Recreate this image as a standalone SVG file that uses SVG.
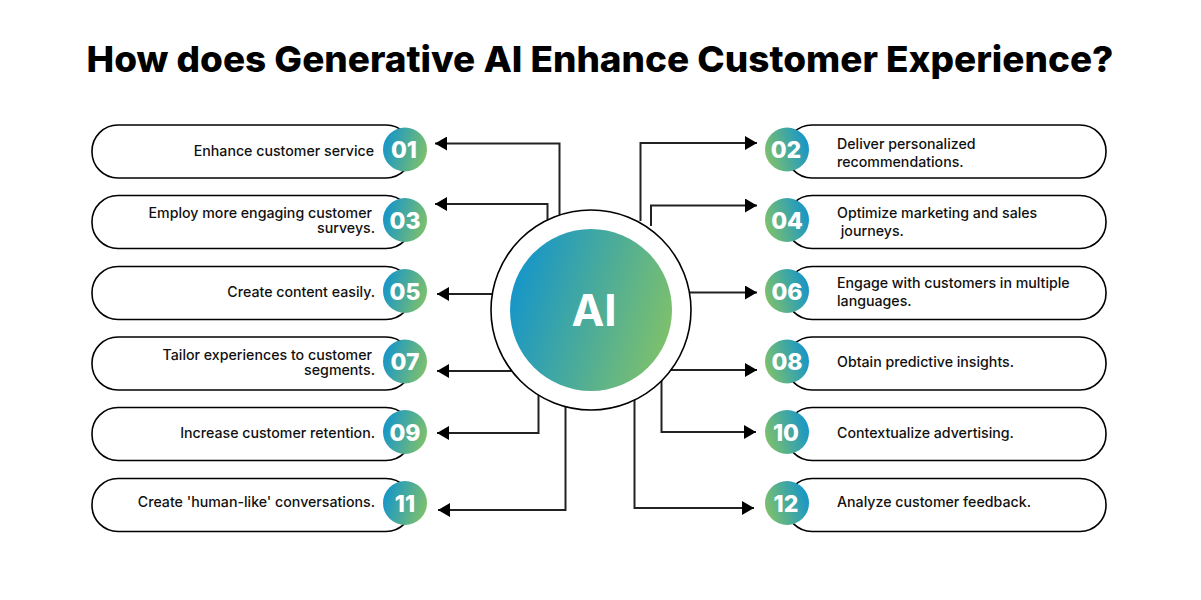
<svg xmlns="http://www.w3.org/2000/svg" width="1201" height="600" viewBox="0 0 1201 600">
<style>
.pill{fill:#fff;stroke:#000;stroke-width:1.6}
.conn{fill:none;stroke:#222;stroke-width:2}
.t{font-family:"Inter","Liberation Sans",sans-serif;font-size:14.2px;font-weight:500;fill:#111}
.l{text-anchor:end}
.n{font-family:"Inter","Liberation Sans",sans-serif;font-size:23px;font-weight:800;fill:#fff;text-anchor:middle}
</style>
<defs>
<linearGradient id="gl" x1="0" y1="0.35" x2="1" y2="0.65"><stop offset="0" stop-color="#1595ca"/><stop offset="1" stop-color="#7fc16b"/></linearGradient>
<linearGradient id="gr" x1="1" y1="0.35" x2="0" y2="0.65"><stop offset="0" stop-color="#1595ca"/><stop offset="1" stop-color="#7fc16b"/></linearGradient>
<marker id="a" markerUnits="userSpaceOnUse" markerWidth="12" markerHeight="14" refX="12" refY="7" orient="auto"><path d="M0 0L12 7L0 14Z" fill="#000"/></marker>
</defs>
<rect width="1201" height="600" fill="#fff"/>
<text x="600" y="72" text-anchor="middle" font-family="Inter,'Liberation Sans',sans-serif" font-size="36" font-weight="800" fill="#000" textLength="1027" lengthAdjust="spacingAndGlyphs">How does Generative AI Enhance Customer Experience?</text>
<g id="connectors" class="conn">
<path marker-end="url(#a)" d="M559.500 215V143.500H435"/>
<path marker-end="url(#a)" d="M547.500 220V204H435"/>
<path marker-end="url(#a)" d="M492 294H437"/>
<path marker-end="url(#a)" d="M512 371H437"/>
<path marker-end="url(#a)" d="M538.500 395V433H437"/>
<path marker-end="url(#a)" d="M565.500 407V510H438"/>
<path marker-end="url(#a)" d="M640.500 221V143H757"/>
<path marker-end="url(#a)" d="M651 226V205.500H757"/>
<path marker-end="url(#a)" d="M690 292.500H757"/>
<path marker-end="url(#a)" d="M670 370H757"/>
<path marker-end="url(#a)" d="M661.500 380V432H756"/>
<path marker-end="url(#a)" d="M634.500 400V508H754"/>
</g>
<g id="hub"><circle cx="591" cy="310" r="100" fill="#fff" stroke="#000" stroke-width="1.6"/><circle cx="591" cy="310" r="81" fill="url(#gl)"/><text x="594" y="326" text-anchor="middle" font-family="Inter,'Liberation Sans',sans-serif" font-size="44" font-weight="700" fill="#fff">AI</text></g>
<g id="n01"><rect class="pill" x="92" y="125" width="320" height="53" rx="26"/><circle cx="405" cy="149.500" r="22" fill="url(#gl)"/><text class="n" x="404" y="158">01</text><text class="t l" x="374" y="156">Enhance customer service</text></g>
<g id="n03"><rect class="pill" x="92" y="195.500" width="320" height="53" rx="26"/><circle cx="405" cy="220" r="22" fill="url(#gl)"/><text class="n" x="405" y="228.500">03</text><text class="t l" x="372" y="218">Employ more engaging customer</text><text class="t l" x="375" y="233">surveys.</text></g>
<g id="n05"><rect class="pill" x="92" y="266.500" width="320" height="53" rx="26"/><circle cx="405" cy="291" r="22" fill="url(#gl)"/><text class="n" x="405" y="299.500">05</text><text class="t l" x="375" y="297">Create content easily.</text></g>
<g id="n07"><rect class="pill" x="92" y="337" width="320" height="53" rx="26"/><circle cx="405" cy="361.500" r="22" fill="url(#gl)"/><text class="n" x="405" y="370">07</text><text class="t l" x="372" y="360">Tailor experiences to customer</text><text class="t l" x="375" y="375">segments.</text></g>
<g id="n09"><rect class="pill" x="92" y="407.500" width="320" height="53" rx="26"/><circle cx="405" cy="432" r="22" fill="url(#gl)"/><text class="n" x="405" y="440.500">09</text><text class="t l" x="375" y="438">Increase customer retention.</text></g>
<g id="n11"><rect class="pill" x="92" y="478.500" width="320" height="53" rx="26"/><circle cx="405" cy="503" r="22" fill="url(#gl)"/><text class="n" x="405" y="511.500">11</text><text class="t l" x="375" y="507">Create 'human-like' conversations.</text></g>
<g id="n02"><rect class="pill" x="786" y="125" width="320" height="53" rx="26"/><circle cx="787" cy="149.500" r="22" fill="url(#gr)"/><text class="n" x="786" y="158">02</text><text class="t" x="837" y="149">Deliver personalized</text><text class="t" x="837" y="167">recommendations.</text></g>
<g id="n04"><rect class="pill" x="786" y="195.500" width="320" height="53" rx="26"/><circle cx="787" cy="220" r="22" fill="url(#gr)"/><text class="n" x="787" y="228.500">04</text><text class="t" x="837" y="218">Optimize marketing and sales</text><text class="t" x="837" y="236" xml:space="preserve"> journeys.</text></g>
<g id="n06"><rect class="pill" x="786" y="266.500" width="320" height="53" rx="26"/><circle cx="787" cy="291" r="22" fill="url(#gr)"/><text class="n" x="787" y="299.500">06</text><text class="t" x="837" y="288">Engage with customers in multiple</text><text class="t" x="837" y="306">languages.</text></g>
<g id="n08"><rect class="pill" x="786" y="337" width="320" height="53" rx="26"/><circle cx="787" cy="361.500" r="22" fill="url(#gr)"/><text class="n" x="787" y="370">08</text><text class="t" x="837" y="367">Obtain predictive insights.</text></g>
<g id="n10"><rect class="pill" x="786" y="407.500" width="320" height="53" rx="26"/><circle cx="787" cy="432" r="22" fill="url(#gr)"/><text class="n" x="786" y="440.500">10</text><text class="t" x="837" y="438">Contextualize advertising.</text></g>
<g id="n12"><rect class="pill" x="786" y="478.500" width="320" height="53" rx="26"/><circle cx="787" cy="503" r="22" fill="url(#gr)"/><text class="n" x="786" y="511.500">12</text><text class="t" x="837" y="507">Analyze customer feedback.</text></g>
</svg>
